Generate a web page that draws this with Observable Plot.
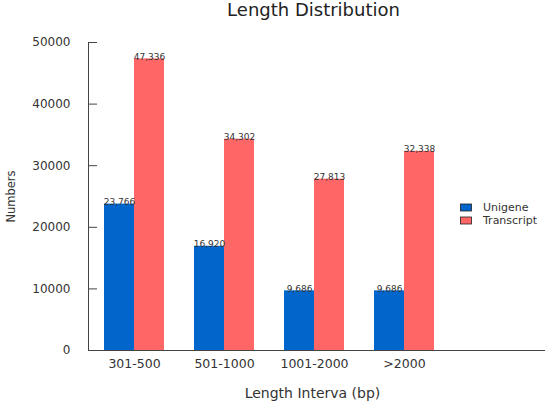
<!DOCTYPE html>
<html>
<head>
<meta charset="utf-8">
<script src="https://cdn.jsdelivr.net/npm/d3@7"></script>
<script src="https://cdn.jsdelivr.net/npm/@observablehq/plot@0.6"></script>
<style>
  html, body { margin: 0; padding: 0; background: #fff; }
</style>
</head>
<body>
<div id="chart"></div>
<script>
const categories = ["301-500", "501-1000", "1001-2000", ">2000"];
const series = ["Unigene", "Transcript"];
const unigene = [23766, 16920, 9686, 9686];
const transcript = [47336, 34302, 27813, 32338];
const yTicks = [0, 10000, 20000, 30000, 40000, 50000];
const colors = ["#0066CC", "#FF6666"];

const rows = categories.map((c, i) => ({category: c, unigene: unigene[i], transcript: transcript[i]}));
const fmt = d3.format(",");

function legend(index, scales, values, dimensions) {
  const g = d3.create("svg:g").attr("font-family", "DejaVu Sans").attr("font-size", 11).attr("text-anchor", "start");
  series.forEach((s, i) => {
    const y = 207.5 + i * 13;
    g.append("rect").attr("x", 460.5).attr("y", y - 3.5).attr("width", 11).attr("height", 7)
      .attr("fill", colors[i]).attr("stroke", "#222").attr("stroke-width", 0.8);
    g.append("text").attr("x", 483).attr("y", y).attr("dy", "0.35em").attr("fill", "#333").text(s);
  });
  return g.node();
}

const chart = Plot.plot({
  width: 550,
  height: 403,
  marginLeft: 88,
  marginRight: 6,
  marginTop: 42,
  marginBottom: 53,
  style: {fontFamily: "DejaVu Sans", background: "#fff", color: "#333"},
  x: {domain: categories, range: [89, 449], padding: 0, axis: null},
  y: {domain: [0, 50000], axis: null},
  marks: [
    Plot.barY(rows, {x: "category", y: "unigene", fill: colors[0], insetLeft: 15, insetRight: 45}),
    Plot.barY(rows, {x: "category", y: "transcript", fill: colors[1], insetLeft: 45, insetRight: 15}),
    Plot.text(rows, {x: "category", y: "unigene", text: d => fmt(d.unigene), dx: -15, dy: 1, lineAnchor: "bottom", fontSize: 9, fill: "#333"}),
    Plot.text(rows, {x: "category", y: "transcript", text: d => fmt(d.transcript), dx: 15, dy: 1, lineAnchor: "bottom", fontSize: 9, fill: "#333"}),
    Plot.frame({anchor: "left", stroke: "#444"}),
    Plot.frame({anchor: "bottom", stroke: "#444"}),
    Plot.tickY(yTicks, {y: d => d, stroke: "#444", insetRight: 447}),
    Plot.axisY(yTicks, {tickSize: 0, tickPadding: 18, fontSize: 12, fill: "#333", label: null, tickFormat: d3.format("d")}),
    Plot.axisX({tickSize: 0, tickPadding: 9, fontSize: 12.5, fill: "#333", label: null}),
    Plot.text(["Length Distribution"], {frameAnchor: "top", lineAnchor: "middle", dy: -32, dx: -3, fontSize: 18, fill: "#222"}),
    Plot.text(["Length Interva (bp)"], {frameAnchor: "bottom", lineAnchor: "middle", dy: 43, dx: -4, fontSize: 14, fill: "#333"}),
    Plot.text(["Numbers"], {frameAnchor: "left", textAnchor: "middle", dx: -77, rotate: -90, fontSize: 11.5, fill: "#333"}),
    legend
  ]
});
document.getElementById("chart").appendChild(chart);
</script>
</body>
</html>
